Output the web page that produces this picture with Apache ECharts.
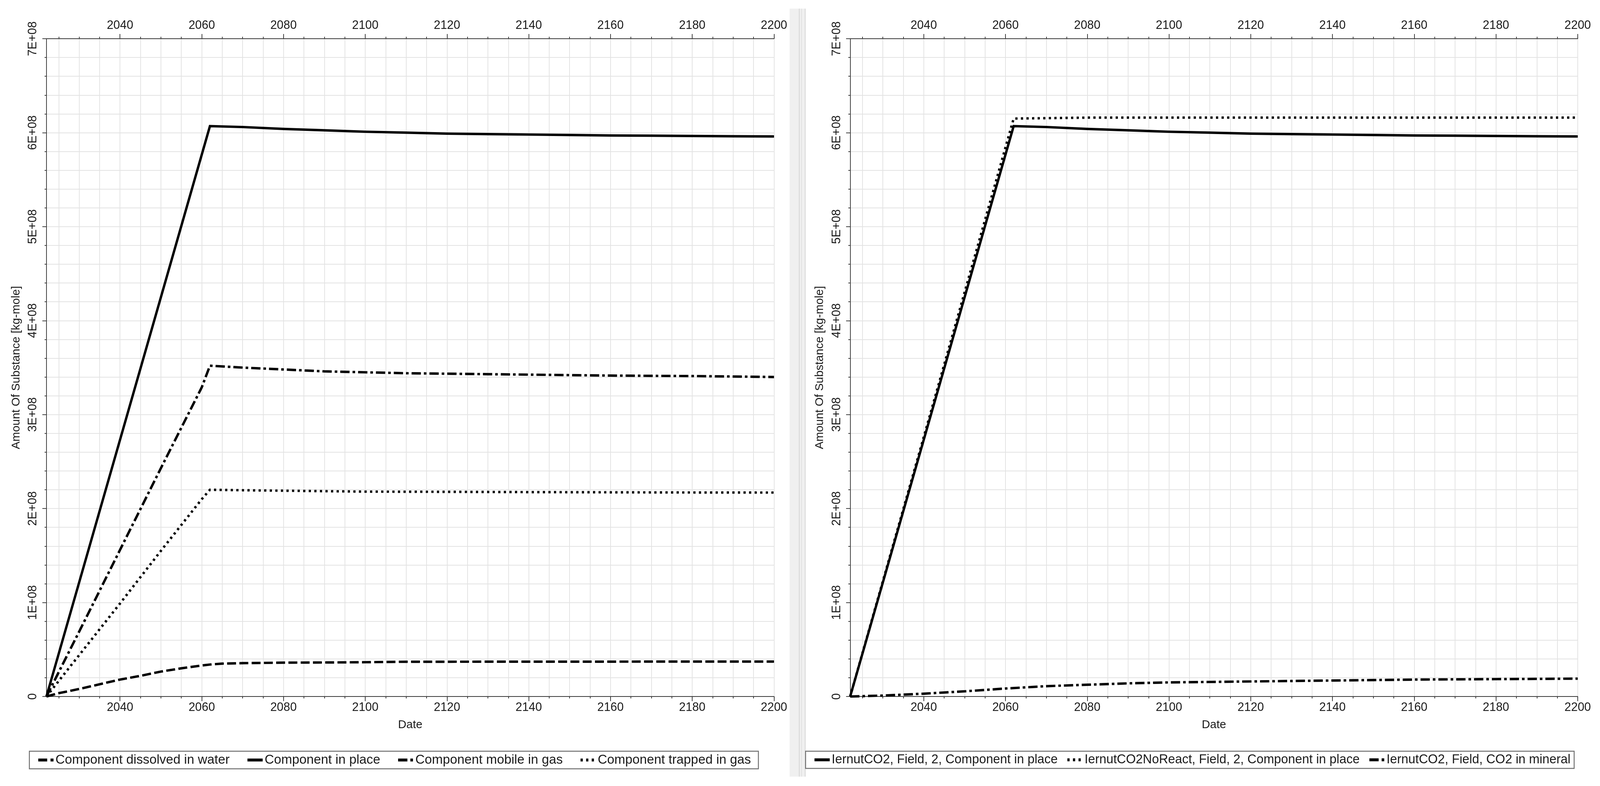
<!DOCTYPE html>
<html>
<head>
<meta charset="utf-8">
<script src="https://cdn.jsdelivr.net/npm/echarts@6/dist/echarts.min.js"></script>
<style>
html,body{margin:0;padding:0;background:#fff;overflow:hidden;}
#chart{width:100vw;height:100vh;}
</style>
</head>
<body>
<div id="chart"></div>
<script>
// ---------- data (values in kg-mole) ----------
// Left panel
const dissolvedYears = [2022, 2025, 2030, 2035, 2040, 2045, 2050, 2055, 2060, 2062, 2065, 2070, 2080, 2090, 2100, 2110, 2120, 2140, 2160, 2180, 2200];
const dissolvedVals  = [0, 0.035e8, 0.08e8, 0.13e8, 0.18e8, 0.22e8, 0.265e8, 0.30e8, 0.33e8, 0.34e8, 0.35e8, 0.355e8, 0.36e8, 0.362e8, 0.365e8, 0.37e8, 0.37e8, 0.371e8, 0.371e8, 0.372e8, 0.372e8];

const inPlaceYears = [2022, 2062, 2070, 2080, 2090, 2100, 2110, 2120, 2130, 2140, 2150, 2160, 2170, 2180, 2190, 2200];
const inPlaceVals  = [0, 6.07e8, 6.06e8, 6.04e8, 6.025e8, 6.01e8, 6.0e8, 5.99e8, 5.985e8, 5.98e8, 5.975e8, 5.97e8, 5.968e8, 5.965e8, 5.962e8, 5.96e8];

const mobileYears = [2022, 2030, 2040, 2050, 2060, 2062, 2070, 2080, 2090, 2100, 2110, 2120, 2130, 2140, 2150, 2160, 2170, 2180, 2190, 2200];
const mobileVals  = [0, 0.69e8, 1.56e8, 2.43e8, 3.29e8, 3.52e8, 3.50e8, 3.48e8, 3.46e8, 3.45e8, 3.44e8, 3.435e8, 3.43e8, 3.425e8, 3.42e8, 3.415e8, 3.412e8, 3.41e8, 3.405e8, 3.40e8];

const trappedYears = [2022, 2030, 2040, 2050, 2060, 2062, 2070, 2080, 2090, 2100, 2120, 2140, 2160, 2180, 2200];
const trappedVals  = [0, 0.44e8, 0.99e8, 1.55e8, 2.10e8, 2.20e8, 2.195e8, 2.19e8, 2.185e8, 2.18e8, 2.178e8, 2.175e8, 2.173e8, 2.171e8, 2.17e8];

// Right panel
const reactYears = inPlaceYears;
const reactVals  = inPlaceVals;

const noReactYears = [2022, 2040, 2062, 2080, 2100, 2120, 2140, 2160, 2180, 2200];
const noReactVals  = [0, 2.76e8, 6.15e8, 6.16e8, 6.16e8, 6.16e8, 6.16e8, 6.16e8, 6.16e8, 6.16e8];

const mineralYears = [2022, 2030, 2040, 2050, 2060, 2070, 2080, 2090, 2100, 2110, 2120, 2140, 2160, 2180, 2200];
const mineralVals  = [0, 0.01e8, 0.03e8, 0.055e8, 0.085e8, 0.11e8, 0.125e8, 0.14e8, 0.15e8, 0.155e8, 0.16e8, 0.17e8, 0.18e8, 0.185e8, 0.19e8];

// axis ticks / labels
const xMin = 2022, xMax = 2200;
const majorYears = [2040, 2060, 2080, 2100, 2120, 2140, 2160, 2180, 2200];
const minorYears = [];
for (let y = 2025; y <= 2200; y += 5) minorYears.push(y);
const yMax = 7e8, yInterval = 1e8;

const leftNames  = ['Component dissolved in water', 'Component in place', 'Component mobile in gas', 'Component trapped in gas'];
const rightNames = ['IernutCO2, Field, 2, Component in place', 'IernutCO2NoReact, Field, 2, Component in place', 'IernutCO2, Field, CO2 in mineral'];

// ---------- layout scaling (reference designed at 4306 x 2011) ----------
const el = document.getElementById('chart');
const W = el.clientWidth || window.innerWidth, H = el.clientHeight || window.innerHeight;
const SX = W / 4306, SY = H / 2011, SF = Math.min(SX, SY);
const px = v => v * SX, py = v => v * SY, pf = v => v * SF;

// ---------- styles ----------
const FONT = '"Liberation Sans", Arial, sans-serif';
const TXT = '#1a1a1a';
const AXC = '#3a3a3a';
const GRIDC = '#e3e3e3';
const LW = pf(6.5);
const DASHED = [pf(24), pf(9)];
const DASHDOT = [pf(25), pf(8), pf(7), pf(8)];
const DOTTED = [pf(6), pf(9)];

function pairs(xs, ys) { return xs.map((x, i) => [x, ys[i]]); }

const grids = [
  {left: px(125), top: py(99), width: px(1958), height: py(1683)},
  {left: px(2288), top: py(99), width: px(1958), height: py(1683)}
];

const xAxes = [], yAxes = [];
const xLabelFmt = v => String(v);
grids.forEach((g, gi) => {
  const base = {
    type: 'value', gridIndex: gi, min: xMin, max: xMax,
    axisLine: {show: true, onZero: false, lineStyle: {color: AXC, width: pf(2)}},
  };
  xAxes.push(Object.assign({}, base, {
    position: 'bottom', name: 'Date', nameLocation: 'middle', nameGap: py(58),
    nameTextStyle: {fontSize: pf(31), color: TXT, fontFamily: FONT},
    axisTick: {show: true, length: py(5), customValues: minorYears, lineStyle: {color: AXC, width: pf(2)}},
    axisLabel: {show: true, customValues: majorYears, formatter: xLabelFmt, margin: py(14), fontSize: pf(32), color: TXT, fontFamily: FONT},
    splitLine: {show: true, lineStyle: {color: GRIDC, width: pf(2)}}
  }));
  xAxes.push(Object.assign({}, base, {
    position: 'bottom', axisLine: {show: false, onZero: false},
    axisTick: {show: true, length: py(12), customValues: majorYears, lineStyle: {color: AXC, width: pf(2)}},
    axisLabel: {show: false}, splitLine: {show: false}
  }));
  xAxes.push(Object.assign({}, base, {
    position: 'top',
    axisTick: {show: true, length: py(5), customValues: minorYears, lineStyle: {color: AXC, width: pf(2)}},
    axisLabel: {show: true, customValues: majorYears, formatter: xLabelFmt, margin: py(18), fontSize: pf(32), color: TXT, fontFamily: FONT},
    splitLine: {show: false}
  }));
  xAxes.push(Object.assign({}, base, {
    position: 'top', axisLine: {show: false, onZero: false},
    axisTick: {show: true, length: py(12), customValues: majorYears, lineStyle: {color: AXC, width: pf(2)}},
    axisLabel: {show: false}, splitLine: {show: false}
  }));
  yAxes.push({
    type: 'value', gridIndex: gi, min: 0, max: yMax, interval: yInterval, position: 'left',
    name: 'Amount Of Substance [kg-mole]', nameLocation: 'middle', nameRotate: 90, nameGap: px(66),
    nameTextStyle: {fontSize: pf(31), color: TXT, fontFamily: FONT},
    axisLine: {show: true, onZero: false, lineStyle: {color: AXC, width: pf(2)}},
    axisTick: {show: true, length: px(11), lineStyle: {color: AXC, width: pf(2)}},
    minorTick: {show: true, splitNumber: 5, length: px(5), lineStyle: {color: AXC, width: pf(2)}},
    splitLine: {show: true, lineStyle: {color: GRIDC, width: pf(2)}},
    minorSplitLine: {show: true, lineStyle: {color: GRIDC, width: pf(2)}},
    axisLabel: {
      show: true, rotate: 90, margin: px(20), fontSize: pf(32), color: TXT, fontFamily: FONT,
      formatter: v => v === 0 ? '0' : (Math.round(v / 1e8) + 'E+08')
    }
  });
});

function line(name, xs, ys, dash, gi) {
  return {
    name, type: 'line', xAxisIndex: gi * 4, yAxisIndex: gi,
    data: pairs(xs, ys), symbol: 'none', showSymbol: false, silent: true,
    lineStyle: {color: '#000', width: LW, type: dash, cap: 'butt', join: 'miter'},
    itemStyle: {color: '#000'}
  };
}

const series = [
  line(leftNames[0], dissolvedYears, dissolvedVals, DASHED, 0),
  line(leftNames[1], inPlaceYears, inPlaceVals, 'solid', 0),
  line(leftNames[2], mobileYears, mobileVals, DASHDOT, 0),
  line(leftNames[3], trappedYears, trappedVals, DOTTED, 0),
  line(rightNames[0], reactYears, reactVals, 'solid', 1),
  line(rightNames[1], noReactYears, noReactVals, DOTTED, 1),
  line(rightNames[2], mineralYears, mineralVals, DASHDOT, 1)
];

function legend(names, left, gap, fs, padR) {
  return {
    data: names, left: left, top: py(1922), orient: 'horizontal', width: px(2300),
    backgroundColor: '#fff', borderColor: '#6e6e6e', borderWidth: pf(2.5), borderRadius: 0,
    padding: [py(6), px(padR), py(6), px(20)], itemGap: gap, itemWidth: px(41), itemHeight: py(14),
    itemStyle: {opacity: 0}, lineStyle: {width: pf(8)},
    textStyle: {fontSize: pf(fs), color: TXT, fontFamily: FONT},
    selectedMode: false
  };
}

const chart = echarts.init(el, null, {renderer: 'canvas'});
chart.setOption({
  animation: false,
  backgroundColor: '#fff',
  grid: grids,
  xAxis: xAxes,
  yAxis: yAxes,
  legend: [legend(leftNames, px(79), px(44), 35, 20), legend(rightNames, px(2168), px(22), 34, 10)],
  graphic: [
    {type: 'rect', shape: {x: px(2125), y: py(22), width: px(43), height: py(1965)}, style: {fill: '#f0f0f0'}, silent: true},
    {type: 'rect', shape: {x: px(2150), y: py(22), width: px(2), height: py(1965)}, style: {fill: '#d4d4d4'}, silent: true},
    {type: 'rect', shape: {x: px(2156), y: py(22), width: px(2), height: py(1965)}, style: {fill: '#e0e0e0'}, silent: true},
    {type: 'rect', shape: {x: px(2166), y: py(22), width: px(2), height: py(1965)}, style: {fill: '#d4d4d4'}, silent: true}
  ],
  series: series
});
</script>
</body>
</html>
